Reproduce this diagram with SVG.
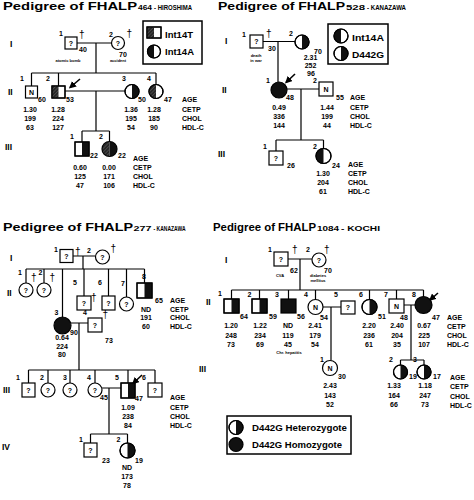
<svg xmlns="http://www.w3.org/2000/svg" width="474" height="500" viewBox="0 0 474 500">
<defs>
<style>
text{font-family:"Liberation Sans",Arial,sans-serif;font-weight:bold;fill:#000}
.ti{font-size:11.5px}
.ts{font-size:8px}
.g{font-size:8.5px}
.n{font-size:7px}
.v{font-size:7px;text-anchor:middle}
.q{font-size:7px;text-anchor:middle}
.s{font-size:4px;text-anchor:middle}
.dg{font-size:10px;font-weight:normal}
.lg{font-size:9.5px}
.sym{fill:#fff;stroke:#000;stroke-width:1.2}
.blk{fill:#111;stroke:none}
.hat{fill:url(#hatch);stroke:none}
.ln{fill:none;stroke:#000;stroke-width:1.2}
.box{fill:#fff;stroke:#000;stroke-width:1.5}
.arr{fill:none;stroke:#000;stroke-width:1.6;marker-end:url(#ah)}
</style>
<pattern id="hatch" width="2.5" height="2.5" patternUnits="userSpaceOnUse" patternTransform="rotate(45)">
<rect width="2.5" height="2.5" fill="#262626"/>
<line x1="0" y1="0" x2="0" y2="2.5" stroke="#8a8a8a" stroke-width="0.6"/>
</pattern>
<marker id="ah" viewBox="0 0 10 10" refX="8" refY="5" markerWidth="4.5" markerHeight="4.5" orient="auto">
<path d="M0,0 L10,5 L0,10 z" fill="#000"/>
</marker>
</defs>
<rect width="474" height="500" fill="#fff"/>

<!-- ================= TITLES ================= -->
<g id="titles">
<text class="ti" x="3" y="9.5" textLength="134" lengthAdjust="spacingAndGlyphs">Pedigree of FHALP</text>
<text class="ts" x="138" y="9.5" textLength="14" lengthAdjust="spacingAndGlyphs">464</text>
<text class="ts" x="154" y="9.5" textLength="38" lengthAdjust="spacingAndGlyphs">- HIROSHIMA</text>
<text class="ti" x="218" y="9.5" textLength="127" lengthAdjust="spacingAndGlyphs">Pedigree of FHALP</text>
<text class="ts" x="346" y="9.5" textLength="19" lengthAdjust="spacingAndGlyphs">528</text>
<text class="ts" x="367" y="9.5" textLength="39" lengthAdjust="spacingAndGlyphs">- KANAZAWA</text>
<text class="ti" x="3" y="231" textLength="130" lengthAdjust="spacingAndGlyphs">Pedigree of FHALP</text>
<text class="ts" x="133.5" y="231" textLength="18" lengthAdjust="spacingAndGlyphs">277</text>
<text class="ts" x="153.5" y="231" textLength="32" lengthAdjust="spacingAndGlyphs">- KANAZAWA</text>
<text class="ti" x="213" y="231" textLength="103" lengthAdjust="spacingAndGlyphs">Pedigree of FHALP</text>
<text class="ts" x="317" y="231" textLength="22" lengthAdjust="spacingAndGlyphs">1084</text>
<text class="ts" x="341" y="231" textLength="39" lengthAdjust="spacingAndGlyphs">- KOCHI</text>
</g>

<!-- ================= CONNECTORS ================= -->
<g id="connectors" class="ln">
<!-- FHALP464 -->
<path d="M77,43 H111.5 M96,43 V73 M31.5,73 H156 M31.5,73 V86 M58.5,73 V86 M156,73 V85 M65,91 H125 M96,91 V131 M82,131 H109.5 M82,131 V142 M109.5,131 V141.5"/>
<!-- FHALP528 -->
<path d="M263,41.5 H295 M278,41.5 V82 M287,89 H319 M301,89 V140 M276,140 H323.5 M276,140 V151 M323.5,140 V148.5"/>
<!-- FHALP277 -->
<path d="M73,256 H95.5 M83,256 V269 M26,269 H144.5 M26,269 V283 M44,269 V283 M62.5,269 V317 M84,269 V296 M108.5,269 V296 M126.5,269 V297 M144.5,269 V283 M71,323 H88 M79,323 V370 M28.5,370 H155 M28.5,370 V383 M48,370 V383 M70,370 V383 M95,370 V383 M128,370 V383 M155,370 V383 M102,388 H121 M109,388 V434 M90.5,434 H127.5 M90.5,434 V443 M127.5,434 V443"/>
<!-- FHALP1084 -->
<path d="M288,259 H312 M300,259 V290 M231.5,290 H423.5 M231.5,290 V299 M259.5,290 V299 M288.5,290 V299 M315.5,290 V299.5 M369.5,290 V299.5 M396.5,290 V299 M423.5,290 V296.5 M323,307 H341 M331,307 V360.5 M404,305 H415 M411,305 V360 M400.5,360 H424 M400.5,360 V365 M424,360 V365"/>
<!-- proband arrows -->
<path class="arr" d="M80,79 L70,87.5"/>
<path class="arr" d="M295,74 L286,82.5"/>
<path class="arr" d="M142,375 L133,383.5"/>
<path class="arr" d="M438,293 L430,300"/>
</g>

<!-- ================= FHALP464 ================= -->
<g id="p464-gen">
<text class="g" x="10" y="47">I</text>
<text class="g" x="8" y="95">II</text>
<text class="g" x="5" y="150">III</text>
</g>
<g id="p464-I1">
<rect class="sym" x="65" y="37" width="12" height="12"/>
<text class="q" x="71" y="45.5">?</text>
<text class="n" x="59" y="36">1</text>
<text class="dg" x="79" y="38">†</text>
<text class="n" x="79" y="52">40</text>
<text class="s" x="68" y="62">atomic bomb</text>
</g>
<g id="p464-I2">
<circle class="sym" cx="118" cy="43" r="6.5"/>
<text class="q" x="118" y="45.5">?</text>
<text class="n" x="109" y="37">2</text>
<text class="dg" x="126.5" y="37">†</text>
<text class="n" x="119" y="57">70</text>
<text class="s" x="118" y="62">accident</text>
</g>
<g id="p464-II1">
<rect class="sym" x="25.5" y="86" width="12" height="12"/>
<text class="q" x="31.5" y="94.5">N</text>
<text class="n" x="20" y="81">1</text>
<text class="n" x="38" y="102">60</text>
<text class="v" x="30" y="111.5">1.30</text>
<text class="v" x="30" y="121">199</text>
<text class="v" x="30" y="130">63</text>
</g>
<g id="p464-II2">
<rect class="sym" x="52" y="86" width="13" height="12"/>
<rect class="hat" x="52" y="86" width="6.5" height="12"/>
<rect x="52" y="86" width="13" height="12" fill="none" stroke="#000" stroke-width="1.2"/>
<text class="n" x="46" y="81">2</text>
<text class="n" x="66" y="102">53</text>
<text class="v" x="58" y="111.5">1.28</text>
<text class="v" x="58" y="121">224</text>
<text class="v" x="58" y="130">127</text>
</g>
<g id="p464-II3">
<circle class="sym" cx="132" cy="91.5" r="7"/>
<path class="blk" d="M132,84.5 A7,7 0 0 1 132,98.5 Z"/>
<circle cx="132" cy="91.5" r="7" fill="none" stroke="#000" stroke-width="1.2"/>
<text class="n" x="122" y="81">3</text>
<text class="n" x="138" y="102">50</text>
<text class="v" x="131" y="111.5">1.36</text>
<text class="v" x="131" y="121">195</text>
<text class="v" x="131" y="130">54</text>
</g>
<g id="p464-II4">
<circle class="sym" cx="156" cy="91.5" r="7"/>
<path class="hat" d="M156,84.5 A7,7 0 0 0 156,98.5 Z"/>
<circle cx="156" cy="91.5" r="7" fill="none" stroke="#000" stroke-width="1.2"/>
<text class="n" x="147" y="81">4</text>
<text class="n" x="164" y="102">47</text>
<text class="v" x="154" y="111.5">1.28</text>
<text class="v" x="154" y="121">185</text>
<text class="v" x="154" y="130">90</text>
</g>
<g id="p464-labelsII">
<text class="n" x="182" y="102">AGE</text>
<text class="n" x="182" y="111.5">CETP</text>
<text class="n" x="182" y="121">CHOL</text>
<text class="n" x="182" y="130">HDL-C</text>
</g>
<g id="p464-III1">
<rect class="sym" x="75" y="142" width="14" height="14"/>
<rect class="blk" x="82" y="142" width="7" height="14"/>
<rect x="75" y="142" width="14" height="14" fill="none" stroke="#000" stroke-width="1.2"/>
<text class="n" x="70" y="139">1</text>
<text class="n" x="90" y="158">22</text>
<text class="v" x="80" y="170">0.60</text>
<text class="v" x="80" y="179">125</text>
<text class="v" x="80" y="188">47</text>
</g>
<g id="p464-III2">
<path class="hat" d="M109.5,141.5 A7.5,7.5 0 0 0 109.5,156.5 Z"/>
<path class="blk" d="M109.5,141.5 A7.5,7.5 0 0 1 109.5,156.5 Z"/>
<circle cx="109.5" cy="149" r="7.5" fill="none" stroke="#000" stroke-width="1.2"/>
<text class="n" x="99" y="139">2</text>
<text class="n" x="118" y="158">22</text>
<text class="v" x="109" y="170">0.00</text>
<text class="v" x="109" y="179">171</text>
<text class="v" x="109" y="188">106</text>
</g>
<g id="p464-labelsIII">
<text class="n" x="133" y="161">AGE</text>
<text class="n" x="133" y="170">CETP</text>
<text class="n" x="133" y="179">CHOL</text>
<text class="n" x="133" y="188">HDL-C</text>
</g>
<g id="p464-legend">
<rect class="box" x="143" y="21" width="59" height="43"/>
<rect class="sym" x="147" y="27" width="14" height="11"/>
<rect class="hat" x="147" y="27" width="7" height="11"/>
<rect x="147" y="27" width="14" height="11" fill="none" stroke="#000" stroke-width="1.2"/>
<text class="lg" x="165" y="38" textLength="28" lengthAdjust="spacingAndGlyphs">Int14T</text>
<circle class="sym" cx="154" cy="51.5" r="6.5"/>
<path class="blk" d="M154,45 A6.5,6.5 0 0 0 154,58 Z"/>
<circle cx="154" cy="51.5" r="6.5" fill="none" stroke="#000" stroke-width="1.2"/>
<text class="lg" x="165" y="55" textLength="29" lengthAdjust="spacingAndGlyphs">Int14A</text>
</g>

<!-- ================= FHALP528 ================= -->
<g id="p528-gen">
<text class="g" x="225" y="44">I</text>
<text class="g" x="222" y="93">II</text>
<text class="g" x="218" y="157">III</text>
</g>
<g id="p528-I1">
<rect class="sym" x="250" y="35" width="13" height="13"/>
<text class="q" x="256.5" y="44">?</text>
<text class="n" x="242" y="37">1</text>
<text class="dg" x="266" y="37">†</text>
<text class="n" x="268" y="51">30</text>
<text class="s" x="256" y="57">death</text>
<text class="s" x="256" y="62">in war</text>
</g>
<g id="p528-I2">
<circle class="sym" cx="302" cy="42" r="7"/>
<path class="blk" d="M302,35 A7,7 0 0 1 302,49 Z"/>
<circle cx="302" cy="42" r="7" fill="none" stroke="#000" stroke-width="1.2"/>
<text class="n" x="289" y="36">2</text>
<text class="n" x="314" y="54">70</text>
<text class="v" x="310.5" y="59.5">2.31</text>
<text class="v" x="310.5" y="67.5">252</text>
<text class="v" x="311" y="75.5">96</text>
</g>
<g id="p528-II1">
<circle cx="279" cy="90" r="8" fill="#111" stroke="#000" stroke-width="1.2"/>
<text class="n" x="266" y="83">1</text>
<text class="n" x="286" y="100">48</text>
<text class="v" x="279" y="110">0.49</text>
<text class="v" x="279" y="119">336</text>
<text class="v" x="279" y="128">144</text>
</g>
<g id="p528-II2">
<rect class="sym" x="319" y="82" width="14" height="14"/>
<text class="q" x="326" y="91.5">N</text>
<text class="n" x="313" y="83">2</text>
<text class="n" x="336" y="100">55</text>
<text class="v" x="327" y="110">1.44</text>
<text class="v" x="327" y="119">199</text>
<text class="v" x="327" y="128">44</text>
</g>
<g id="p528-labelsII">
<text class="n" x="350" y="100">AGE</text>
<text class="n" x="350" y="110">CETP</text>
<text class="n" x="350" y="119">CHOL</text>
<text class="n" x="350" y="128">HDL-C</text>
</g>
<g id="p528-III1">
<rect class="sym" x="269" y="151" width="14" height="14"/>
<text class="q" x="276" y="160.5">?</text>
<text class="n" x="263" y="149">1</text>
<text class="n" x="287" y="168">26</text>
</g>
<g id="p528-III2">
<circle class="sym" cx="323.5" cy="156" r="7.5"/>
<path class="blk" d="M323.5,148.5 A7.5,7.5 0 0 0 323.5,163.5 Z"/>
<circle cx="323.5" cy="156" r="7.5" fill="none" stroke="#000" stroke-width="1.2"/>
<text class="n" x="313" y="149">2</text>
<text class="n" x="332" y="168">24</text>
<text class="v" x="323" y="176">1.30</text>
<text class="v" x="323" y="185">204</text>
<text class="v" x="323" y="194">61</text>
</g>
<g id="p528-labelsIII">
<text class="n" x="348" y="167">AGE</text>
<text class="n" x="348" y="176">CETP</text>
<text class="n" x="348" y="185">CHOL</text>
<text class="n" x="348" y="194">HDL-C</text>
</g>
<g id="p528-legend">
<rect class="box" x="328" y="24" width="60" height="40"/>
<circle class="sym" cx="341" cy="36" r="7"/>
<path class="blk" d="M341,29 A7,7 0 0 0 341,43 Z"/>
<circle cx="341" cy="36" r="7" fill="none" stroke="#000" stroke-width="1.2"/>
<text class="lg" x="352" y="41" textLength="32" lengthAdjust="spacingAndGlyphs">Int14A</text>
<circle class="sym" cx="341" cy="53.5" r="7"/>
<path class="blk" d="M341,46.5 A7,7 0 0 1 341,60.5 Z"/>
<circle cx="341" cy="53.5" r="7" fill="none" stroke="#000" stroke-width="1.2"/>
<text class="lg" x="352" y="58" textLength="32" lengthAdjust="spacingAndGlyphs">D442G</text>
</g>

<!-- ================= FHALP277 ================= -->
<g id="p277-gen">
<text class="g" x="10" y="261">I</text>
<text class="g" x="7" y="296">II</text>
<text class="g" x="3" y="393">III</text>
<text class="g" x="2" y="450">IV</text>
</g>
<g id="p277-I1">
<rect class="sym" x="60" y="249.5" width="13" height="13"/>
<text class="q" x="66.5" y="258.5">?</text>
<text class="n" x="54" y="252">1</text>
<text class="dg" x="75" y="255">†</text>
</g>
<g id="p277-I2">
<circle class="sym" cx="102.5" cy="257" r="7"/>
<text class="q" x="102.5" y="259.5">?</text>
<text class="n" x="87" y="253">2</text>
<text class="dg" x="110.5" y="252">†</text>
</g>
<g id="p277-II1">
<circle class="sym" cx="26" cy="290" r="7"/>
<text class="q" x="26" y="292.5">?</text>
<text class="n" x="18" y="275">1</text>
<text class="dg" x="31" y="281">†</text>
</g>
<g id="p277-II2">
<circle class="sym" cx="44" cy="290" r="7"/>
<text class="q" x="44" y="292.5">?</text>
<text class="n" x="38.5" y="275">2</text>
<text class="dg" x="49.5" y="281">†</text>
</g>
<g id="p277-II3">
<circle cx="62.5" cy="325.5" r="8.5" fill="#111" stroke="#000" stroke-width="1.2"/>
<text class="n" x="54.5" y="315">3</text>
<text class="n" x="70" y="335">90</text>
<text class="v" x="62" y="340">0.64</text>
<text class="v" x="62" y="348.5">224</text>
<text class="v" x="62" y="357">80</text>
</g>
<g id="p277-II4">
<rect class="sym" x="88" y="318" width="14" height="14"/>
<text class="q" x="95" y="327.5">?</text>
<text class="n" x="83" y="315">4</text>
<text class="dg" x="102.5" y="318">†</text>
<text class="n" x="105" y="343">73</text>
</g>
<g id="p277-II5">
<rect class="sym" x="77" y="296" width="14" height="14"/>
<text class="q" x="84" y="305.5">?</text>
<text class="n" x="73" y="285">5</text>
<text class="dg" x="91" y="301">†</text>
</g>
<g id="p277-II6">
<rect class="sym" x="102" y="296" width="13" height="14"/>
<text class="q" x="108.5" y="305.5">?</text>
<text class="n" x="98" y="285">6</text>
</g>
<g id="p277-II7">
<circle class="sym" cx="126.5" cy="304" r="7"/>
<text class="q" x="126.5" y="306.5">?</text>
<text class="n" x="121" y="286">7</text>
</g>
<g id="p277-II8">
<rect class="sym" x="137" y="283" width="15" height="15"/>
<rect class="blk" x="144.5" y="283" width="7.5" height="15"/>
<rect x="137" y="283" width="15" height="15" fill="none" stroke="#000" stroke-width="1.2"/>
<text class="n" x="142" y="279">8</text>
<text class="n" x="155" y="303">65</text>
<text class="v" x="146" y="311.5">ND</text>
<text class="v" x="146" y="320">191</text>
<text class="v" x="146" y="328.5">60</text>
</g>
<g id="p277-labelsII">
<text class="n" x="170" y="303">AGE</text>
<text class="n" x="170" y="311.5">CETP</text>
<text class="n" x="170" y="320">CHOL</text>
<text class="n" x="170" y="328.5">HDL-C</text>
</g>
<g id="p277-III1">
<rect class="sym" x="22" y="383" width="13" height="14"/>
<text class="q" x="28.5" y="392.5">?</text>
<text class="n" x="16" y="380">1</text>
</g>
<g id="p277-III2">
<circle class="sym" cx="48" cy="390" r="7"/>
<text class="q" x="48" y="392.5">?</text>
<text class="n" x="40" y="380">2</text>
</g>
<g id="p277-III3">
<circle class="sym" cx="70" cy="390" r="7"/>
<text class="q" x="70" y="392.5">?</text>
<text class="n" x="63" y="380">3</text>
</g>
<g id="p277-III4">
<circle class="sym" cx="95" cy="390" r="7"/>
<text class="q" x="95" y="392.5">?</text>
<text class="n" x="87" y="380">4</text>
<text class="n" x="100" y="400">45</text>
</g>
<g id="p277-III5">
<rect class="sym" x="121" y="383" width="14" height="15"/>
<rect class="blk" x="128" y="383" width="7" height="15"/>
<rect x="121" y="383" width="14" height="15" fill="none" stroke="#000" stroke-width="1.2"/>
<text class="n" x="115" y="380">5</text>
<text class="n" x="135" y="401">47</text>
<text class="v" x="128" y="410">1.09</text>
<text class="v" x="128" y="418.5">238</text>
<text class="v" x="128" y="427.5">84</text>
</g>
<g id="p277-III6">
<rect class="sym" x="148" y="383" width="14" height="14"/>
<text class="q" x="155" y="392.5">?</text>
<text class="n" x="142" y="380">6</text>
</g>
<g id="p277-labelsIII">
<text class="n" x="170" y="400">AGE</text>
<text class="n" x="170" y="410">CETP</text>
<text class="n" x="170" y="418.5">CHOL</text>
<text class="n" x="170" y="427.5">HDL-C</text>
</g>
<g id="p277-IV1">
<rect class="sym" x="84" y="443" width="13" height="14"/>
<text class="q" x="90.5" y="452.5">?</text>
<text class="n" x="79" y="442">1</text>
<text class="n" x="102" y="463">23</text>
</g>
<g id="p277-IV2">
<circle class="sym" cx="127.5" cy="450.5" r="7.5"/>
<path class="blk" d="M127.5,443 A7.5,7.5 0 0 1 127.5,458 Z"/>
<circle cx="127.5" cy="450.5" r="7.5" fill="none" stroke="#000" stroke-width="1.2"/>
<text class="n" x="116.5" y="442">2</text>
<text class="n" x="135" y="463">19</text>
<text class="v" x="127" y="470">ND</text>
<text class="v" x="127" y="479">173</text>
<text class="v" x="127" y="488">78</text>
</g>

<!-- ================= FHALP1084 ================= -->
<g id="p1084-gen">
<text class="g" x="225" y="263">I</text>
<text class="g" x="206" y="305">II</text>
<text class="g" x="199" y="372">III</text>
</g>
<g id="p1084-I1">
<rect class="sym" x="274" y="252" width="14" height="14"/>
<text class="q" x="281" y="261.5">?</text>
<text class="n" x="268" y="252">1</text>
<text class="dg" x="292" y="253">†</text>
<text class="n" x="290" y="273">62</text>
<text class="s" x="280" y="277">CVA</text>
</g>
<g id="p1084-I2">
<circle class="sym" cx="319" cy="260" r="7"/>
<text class="q" x="319" y="262.5">?</text>
<text class="n" x="306" y="252">2</text>
<text class="dg" x="324" y="253">†</text>
<text class="n" x="324" y="273">70</text>
<text class="s" x="318" y="277">diabetes</text>
<text class="s" x="318" y="282">mellitus</text>
</g>
<g id="p1084-II1">
<rect class="sym" x="224" y="299" width="15" height="14"/>
<rect class="blk" x="231.5" y="299" width="7.5" height="14"/>
<rect x="224" y="299" width="15" height="14" fill="none" stroke="#000" stroke-width="1.2"/>
<text class="n" x="218" y="296">1</text>
<text class="n" x="240" y="319">64</text>
<text class="v" x="231" y="328">1.20</text>
<text class="v" x="231" y="337.5">248</text>
<text class="v" x="231" y="347">73</text>
</g>
<g id="p1084-II2">
<rect class="sym" x="252" y="299" width="15" height="14"/>
<rect class="blk" x="259.5" y="299" width="7.5" height="14"/>
<rect x="252" y="299" width="15" height="14" fill="none" stroke="#000" stroke-width="1.2"/>
<text class="n" x="247.5" y="297">2</text>
<text class="n" x="269" y="319">59</text>
<text class="v" x="260" y="328">1.22</text>
<text class="v" x="260" y="337.5">234</text>
<text class="v" x="260" y="347">69</text>
</g>
<g id="p1084-II3">
<rect x="281" y="299" width="15" height="14" fill="#111" stroke="#000" stroke-width="1.2"/>
<text class="n" x="275" y="297">3</text>
<text class="n" x="297" y="319">56</text>
<text class="v" x="288" y="328">ND</text>
<text class="v" x="288" y="337.5">119</text>
<text class="v" x="288" y="347">45</text>
<text class="s" x="289" y="354">Chr. hepatitis</text>
</g>
<g id="p1084-II4">
<circle class="sym" cx="315.5" cy="307" r="7.5"/>
<text class="q" x="315.5" y="309.5">N</text>
<text class="n" x="304" y="297">4</text>
<text class="n" x="320" y="320">54</text>
<text class="v" x="315" y="328">2.41</text>
<text class="v" x="315" y="337.5">179</text>
<text class="v" x="315" y="347">54</text>
</g>
<g id="p1084-II5">
<rect class="sym" x="341" y="301" width="14" height="13"/>
<text class="q" x="348" y="310">?</text>
<text class="n" x="334" y="297">5</text>
</g>
<g id="p1084-II6">
<circle class="sym" cx="369.5" cy="307" r="7.5"/>
<path class="blk" d="M369.5,299.5 A7.5,7.5 0 0 1 369.5,314.5 Z"/>
<circle cx="369.5" cy="307" r="7.5" fill="none" stroke="#000" stroke-width="1.2"/>
<text class="n" x="359" y="297">6</text>
<text class="n" x="378" y="319">51</text>
<text class="v" x="369" y="328">2.20</text>
<text class="v" x="369" y="337.5">236</text>
<text class="v" x="369" y="347">61</text>
</g>
<g id="p1084-II7">
<rect class="sym" x="389" y="299" width="15" height="14"/>
<text class="q" x="396.5" y="308.5">N</text>
<text class="n" x="384" y="297">7</text>
<text class="n" x="400" y="320">48</text>
<text class="v" x="397" y="328">2.40</text>
<text class="v" x="397" y="337.5">204</text>
<text class="v" x="397" y="347">35</text>
</g>
<g id="p1084-II8">
<circle cx="423.5" cy="305" r="8.5" fill="#111" stroke="#000" stroke-width="1.2"/>
<text class="n" x="412" y="297">8</text>
<text class="n" x="432" y="320">47</text>
<text class="v" x="424" y="328">0.67</text>
<text class="v" x="424" y="337.5">225</text>
<text class="v" x="424" y="347">107</text>
</g>
<g id="p1084-labelsII">
<text class="n" x="447" y="320">AGE</text>
<text class="n" x="447" y="328.5">CETP</text>
<text class="n" x="447" y="338">CHOL</text>
<text class="n" x="447" y="347">HDL-C</text>
</g>
<g id="p1084-III1">
<circle class="sym" cx="330" cy="368" r="7.5"/>
<text class="q" x="330" y="370.5">N</text>
<text class="n" x="320" y="362">1</text>
<text class="n" x="338" y="379">30</text>
<text class="v" x="330" y="388">2.43</text>
<text class="v" x="330" y="397.5">143</text>
<text class="v" x="330" y="407">52</text>
</g>
<g id="p1084-III2">
<circle class="sym" cx="400.5" cy="372" r="7"/>
<path class="blk" d="M400.5,365 A7,7 0 0 1 400.5,379 Z"/>
<circle cx="400.5" cy="372" r="7" fill="none" stroke="#000" stroke-width="1.2"/>
<text class="n" x="389" y="362">2</text>
<text class="n" x="409" y="379">19</text>
<text class="v" x="394" y="388">1.33</text>
<text class="v" x="394" y="397.5">164</text>
<text class="v" x="394" y="407">66</text>
</g>
<g id="p1084-III3">
<circle class="sym" cx="424" cy="372" r="7"/>
<path class="blk" d="M424,365 A7,7 0 0 1 424,379 Z"/>
<circle cx="424" cy="372" r="7" fill="none" stroke="#000" stroke-width="1.2"/>
<text class="n" x="413" y="362">3</text>
<text class="n" x="433" y="379">17</text>
<text class="v" x="425" y="388">1.18</text>
<text class="v" x="425" y="397.5">247</text>
<text class="v" x="425" y="407">73</text>
</g>
<g id="p1084-labelsIII">
<text class="n" x="450" y="380">AGE</text>
<text class="n" x="450" y="389">CETP</text>
<text class="n" x="450" y="398.5">CHOL</text>
<text class="n" x="450" y="408">HDL-C</text>
</g>
<g id="p1084-legend">
<rect class="box" x="227" y="416" width="124" height="38"/>
<circle class="sym" cx="236" cy="427.5" r="7"/>
<path class="blk" d="M236,420.5 A7,7 0 0 1 236,434.5 Z"/>
<circle cx="236" cy="427.5" r="7" fill="none" stroke="#000" stroke-width="1.2"/>
<text class="lg" x="252" y="431" textLength="95" lengthAdjust="spacingAndGlyphs">D442G Heterozygote</text>
<circle cx="236" cy="444.5" r="7" fill="#111" stroke="#000" stroke-width="1.2"/>
<text class="lg" x="252" y="448" textLength="90" lengthAdjust="spacingAndGlyphs">D442G Homozygote</text>
</g>
</svg>
